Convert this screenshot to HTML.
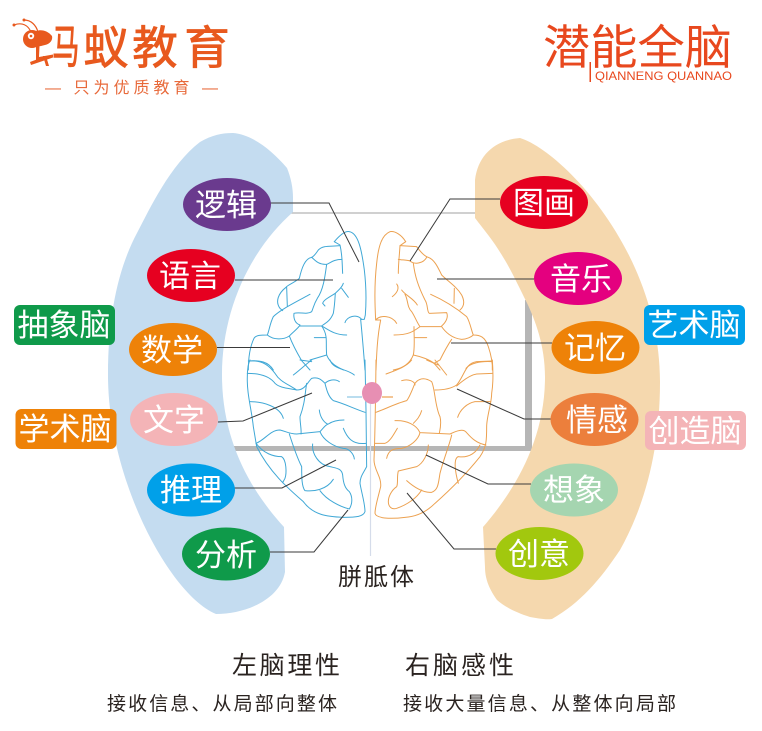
<!DOCTYPE html>
<html><head><meta charset="utf-8"><style>
html,body{margin:0;padding:0;background:#fff;width:762px;height:731px;overflow:hidden}
svg{display:block}
text{font-family:"Liberation Sans","Noto Sans CJK SC",sans-serif}
.p{fill:#fff;font-size:31px;text-anchor:middle}
.s{fill:#fff;font-size:31px;text-anchor:middle}
.b path{fill:none;stroke-width:3;stroke-linecap:round;stroke-linejoin:round}
.c{fill:none;stroke:#3a3a3a;stroke-width:1}
.k{fill:#2a2320}
</style></head><body>
<svg width="762" height="731" viewBox="0 0 762 731" xmlns="http://www.w3.org/2000/svg">
<rect width="762" height="731" fill="#fff"/>
<!-- grey frame -->
<path d="M290 213H480" stroke="#b5b5b5" stroke-width="1.2" fill="none"/>
<rect x="525" y="300" width="7" height="151" fill="#b6b6b6"/>
<rect x="225" y="446" width="307" height="5" fill="#b6b6b6"/>
<!-- crescents -->
<path d="M233 133C250 134 270 148 287 168C291 178 293 188 293 198L293 212C250 250 222 310 222 375C222 440 250 490 284 527L285 572C280 600 245 614 216 614C170 595 108 480 108 375C108 310 120 265 137 233C150 208.500 170 165 200 142C212 135 222 133 233 133Z" fill="#c4dcf0"/>
<path d="M520 138C560 150 660 250 660 382C660 450 645 505 620 550C600 580 580 603 552 619C545 620 537 618 530 617C515 612 505 607 497 600C490 590 485 580 485 567L483 527C515 490 545 440 545 377C545 345 535 320 527 303C518 285 510 268 503 257C493 240 484 230 475 218L475 180C478 155 495 140 520 138Z" fill="#f5d8ae"/>
<!-- callosum -->
<path d="M370.500 393V556" stroke="#d5dcea" stroke-width="1.2"/>
<!-- brain left -->
<g class="b" stroke="#40a8d6">
<g transform="translate(230 200) scale(.3333)">
<path d="M313 125C330 105 345 92 358 95C385 100 395 150 403 210C410 270 408 320 406 345L403 358L392 358C398 420 402 470 405 510"/>
<path d="M313 125L330 135C338 170 336 190 338 220"/>
<path d="M330 137C300 140 280 135 265 150C255 165 250 170 245 172C225 175 215 205 208 235C190 250 172 255 168 262C145 280 135 305 150 325L158 332"/>
<path d="M245 172C255 180 265 195 290 193C300 190 310 178 336 178"/>
<path d="M290 193C285 230 280 270 262 295C250 315 250 325 245 335C230 345 210 335 192 340C190 355 195 370 210 375C205 385 190 395 178 408C160 420 130 420 112 405"/>
<path d="M170 262L172 318"/>
<path d="M240 283C190 310 150 330 130 350C120 370 118 390 112 405C95 405 78 405 72 415C60 440 55 470 55 510"/>
<path d="M178 408C190 440 205 465 215 482L240 510"/>
<path d="M240 480L290 465C288 440 290 420 288 410C286 395 280 385 275 378L210 378"/>
<path d="M275 378C285 370 300 365 310 340C315 310 315 290 316 280C300 290 280 300 278 310L285 318"/>
<path d="M316 280C325 270 335 265 340 250M335 265L355 292"/>
<path d="M275 378C290 385 310 405 350 405M253 413L288 413"/>
<path d="M290 465C300 490 320 500 340 510"/>
<path d="M345 368C350 350 380 340 395 358"/>
<path d="M55 483C90 480 115 485 130 510"/>
</g>
<g transform="translate(230 360) scale(.3333)">
<path d="M405 0L408 150L410 320C400 340 390 350 390 370C395 400 405 430 405 455C400 470 380 472 340 472C290 470 250 465 220 425C180 390 120 340 80 260L70 200C65 150 50 100 52 50C52 25 55 10 60 0"/>
<path d="M52 40C90 40 120 50 135 70C150 85 180 85 200 90C225 90 230 70 245 55C265 50 275 60 285 70C290 90 295 110 310 122C340 130 370 145 405 157"/>
<path d="M60 3C100 0 120 20 135 40C150 65 170 70 200 90"/>
<path d="M60 125C100 125 150 140 160 175"/>
<path d="M190 45C210 30 225 15 245 0M210 0L245 5"/>
<path d="M300 0C310 30 350 25 373 45"/>
<path d="M285 70C295 60 315 55 328 65"/>
<path d="M230 70C225 100 225 130 210 170C210 190 215 210 213 222"/>
<path d="M78 250C105 240 120 210 150 210C170 215 180 222 200 222L270 215C280 205 285 195 295 192C310 182 330 180 342 180"/>
<path d="M268 150C270 170 280 185 292 192"/>
<path d="M270 215C280 240 310 260 340 265C360 265 372 285 373 297"/>
<path d="M340 205C350 230 365 255 408 250"/>
<path d="M178 222C190 260 205 300 215 320C215 350 215 380 225 392C250 395 290 390 310 358"/>
<path d="M248 252C245 280 265 315 300 320C320 325 335 325 338 345C340 370 345 385 358 395C368 410 368 430 358 447C330 440 290 420 270 392"/>
<path d="M78 250C100 280 130 290 155 290C170 300 170 340 165 355L158 368"/>
</g>
</g>
<!-- brain right -->
<g class="b" stroke="#eca150">
<g transform="translate(360 200) scale(.3333)">
<path d="M137 125C125 105 105 92 90 95C65 105 55 140 50 190C42 260 45 320 47 360L62 360C52 410 50 460 48 510"/>
<path d="M137 125L120 137C118 170 115 190 115 220"/>
<path d="M120 137L170 140C185 160 195 170 205 172C225 180 235 205 245 225C265 245 290 260 305 285C315 305 312 320 300 330"/>
<path d="M115 178C125 180 140 180 150 183C165 195 190 190 200 172"/>
<path d="M160 190C165 230 175 260 195 300C205 315 200 335 208 340L260 338C265 350 260 365 245 378"/>
<path d="M212 283C250 300 290 325 320 350C330 365 335 395 340 405C360 405 375 410 385 440C395 470 398 490 397 510"/>
<path d="M283 265L282 310"/>
<path d="M110 252C120 265 110 280 97 290M125 270C135 285 160 295 172 315M135 283C145 300 140 320 155 335C165 350 172 370 180 380C160 395 145 405 102 405"/>
<path d="M180 380L245 380C255 395 275 415 305 418C320 418 335 410 340 405"/>
<path d="M162 380C162 410 165 440 160 465C185 470 210 480 222 490L240 510"/>
<path d="M165 413L200 413"/>
<path d="M275 418C260 440 250 460 240 480L222 490"/>
<path d="M47 360C60 345 95 345 110 370"/>
<path d="M318 505C330 490 360 483 395 485"/>
<path d="M160 465C150 490 130 505 100 510"/>
</g>
<g transform="translate(360 360) scale(.3333)">
<path d="M48 0C47 100 46 200 42 300C42 330 65 350 62 380C55 410 45 440 45 460C48 475 90 478 135 472C170 470 200 455 225 430C270 390 320 340 360 290C380 260 380 240 380 200C380 170 395 130 395 100C400 70 400 40 397 0"/>
<path d="M48 157C80 145 110 130 140 122C150 110 160 80 165 70C180 50 200 55 215 65C225 85 225 140 240 170C245 190 240 210 238 220"/>
<path d="M78 42C110 30 140 20 155 0"/>
<path d="M125 62C145 55 165 65 165 75"/>
<path d="M225 90C250 90 275 85 290 75C315 45 315 10 350 5L397 3"/>
<path d="M290 78C310 60 330 45 350 42L397 40"/>
<path d="M225 0L260 45M200 0L235 15"/>
<path d="M293 172C300 150 320 130 345 125L392 125"/>
<path d="M105 182C140 180 170 195 180 218L270 222C290 212 310 205 320 218C335 235 350 250 378 255"/>
<path d="M185 152C180 170 170 180 160 190"/>
<path d="M180 218C175 240 150 260 125 265C100 265 85 270 80 295"/>
<path d="M112 205C100 225 90 245 75 250L45 250"/>
<path d="M275 225C270 250 250 300 240 340C235 370 235 390 215 397C190 400 160 380 140 362"/>
<path d="M205 255C205 280 190 310 170 320L115 333C110 350 115 370 110 380C95 390 85 410 85 425C85 440 95 450 110 445C140 435 170 415 185 390"/>
<path d="M360 255C350 275 330 295 295 290C280 295 285 335 295 370"/>
</g>
</g>
<!-- pineal -->
<path d="M347 397H362" stroke="#8cc6e4" stroke-width="1.2"/>
<path d="M382 397H393" stroke="#eca150" stroke-width="1.2"/>
<ellipse cx="372" cy="393" rx="10" ry="11" fill="#e78fb3"/>
<!-- connectors -->
<g class="c">
<path d="M270 203H329L359 262"/>
<path d="M235 280H333"/>
<path d="M217 347.500H290"/>
<path d="M218 422L243 421L312 393"/>
<path d="M234 488H282L336 460"/>
<path d="M270 552H314L348 510"/>
<path d="M500 199H450L410 261"/>
<path d="M534 279H437"/>
<path d="M552 343H451"/>
<path d="M551 419H524L457 389"/>
<path d="M531 484H488L426 455"/>
<path d="M496 549H454L407 493"/>
</g>
<!-- pills -->
<ellipse cx="227" cy="204.500" rx="44" ry="26.500" fill="#6a3a8e"/>
<ellipse cx="191" cy="275.500" rx="44" ry="26.500" fill="#e60020"/>
<ellipse cx="173" cy="349.500" rx="44" ry="26.500" fill="#ee8208"/>
<ellipse cx="174" cy="419.500" rx="44" ry="26.500" fill="#f4b4b7"/>
<ellipse cx="191" cy="490" rx="44" ry="26.500" fill="#00a0e9"/>
<ellipse cx="226" cy="554" rx="44" ry="26.500" fill="#0f9a4a"/>
<ellipse cx="544" cy="202.500" rx="44" ry="26.500" fill="#e60020"/>
<ellipse cx="578" cy="278.500" rx="44" ry="26.500" fill="#e4007f"/>
<ellipse cx="595.500" cy="347.500" rx="44" ry="26.500" fill="#ee8208"/>
<ellipse cx="594.500" cy="419.500" rx="44" ry="26.500" fill="#ec7f3c"/>
<ellipse cx="574" cy="490" rx="44" ry="26.500" fill="#a5d5b0"/>
<ellipse cx="539.500" cy="553.500" rx="44" ry="26.500" fill="#a2c80e"/>
<text class="p" x="226" y="216">逻辑</text>
<text class="p" x="190" y="287">语言</text>
<text class="p" x="172" y="361">数学</text>
<text class="p" x="174" y="431">文字</text>
<text class="p" x="191" y="501">推理</text>
<text class="p" x="226" y="566">分析</text>
<text class="p" x="544" y="214">图画</text>
<text class="p" x="581" y="290">音乐</text>
<text class="p" x="595" y="359">记忆</text>
<text class="p" x="597" y="431">情感</text>
<text class="p" x="574" y="501">想象</text>
<text class="p" x="539" y="565">创意</text>
<!-- side boxes -->
<rect x="14" y="305" width="101" height="40" rx="6" fill="#0f9a4a"/>
<rect x="15.500" y="409" width="101" height="40" rx="6" fill="#ee8208"/>
<rect x="644" y="305" width="101" height="40" rx="6" fill="#00a0e9"/>
<rect x="645" y="411" width="101" height="39" rx="6" fill="#f4b4b7"/>
<text class="s" x="64" y="336">抽象脑</text>
<text class="s" x="65" y="440">学术脑</text>
<text class="s" x="694" y="336">艺术脑</text>
<text class="s" x="695" y="442">创造脑</text>
<!-- ant logo -->
<g fill="#e8591e" stroke="none">
<circle cx="32" cy="39" r="9"/>
<path d="M36 31C42 29 48 31 52 36C53 40 50 44 45 45C41 46 38 47 36 46Z"/>
<circle cx="31" cy="36" r="3.200" fill="#fff"/>
<circle cx="31" cy="36" r="1.300"/>
<path d="M36 46H39.500L39 57L53 54.500V57.500L31 65L30 62L36 59.800Z"/>
<path d="M43 56H46L49 66H46Z"/>
<circle cx="14" cy="25" r="1.500"/>
<circle cx="24" cy="20" r="1.500"/>
</g>
<path d="M14 25C22 22 28 25 31 32M24 20C31 20 36 25 38 32" fill="none" stroke="#e8591e" stroke-width="1.200"/>
<g fill="#e8591e" font-size="46" style="font-weight:500">
<text transform="translate(52 63) scale(.6 1)">马</text>
<text x="83" y="64">蚁</text>
<text x="132" y="64">教</text>
<text x="184" y="64">育</text>
</g>
<text x="45" y="93" font-size="16" fill="#e8693a" textLength="173" lengthAdjust="spacing">— 只为优质教育 —</text>
<text x="543" y="64" font-size="47" fill="#e8481e" textLength="189" lengthAdjust="spacingAndGlyphs">潜能全脑</text>
<rect x="589.500" y="62" width="1.500" height="20" fill="#e8481e"/>
<text x="595" y="80" font-size="12" fill="#e8481e" textLength="137" lengthAdjust="spacingAndGlyphs">QIANNENG QUANNAO</text>
<!-- bottom text -->
<text class="k" x="338" y="585" font-size="24" textLength="76" lengthAdjust="spacing">胼胝体</text>
<text class="k" x="232" y="674" font-size="25" textLength="108" lengthAdjust="spacing">左脑理性</text>
<text class="k" x="405" y="674" font-size="25" textLength="109" lengthAdjust="spacing">右脑感性</text>
<text class="k" x="107" y="710" font-size="19" textLength="230" lengthAdjust="spacing">接收信息、从局部向整体</text>
<text class="k" x="403" y="710" font-size="19" textLength="273" lengthAdjust="spacing">接收大量信息、从整体向局部</text>
</svg>
</body></html>
